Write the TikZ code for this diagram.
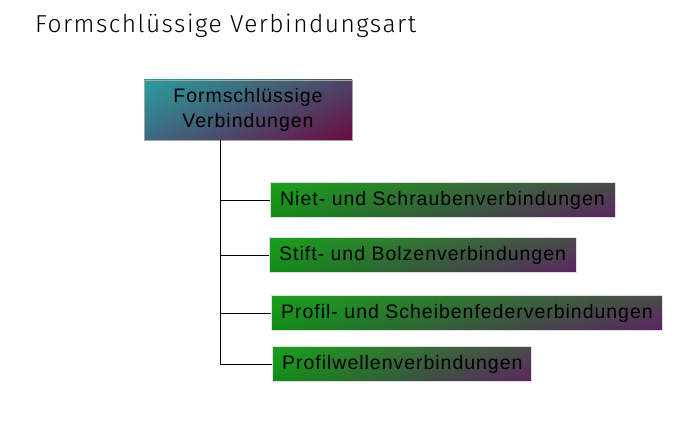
\documentclass[tikz,border=0pt]{standalone}
\usepackage{fontspec}
\setmainfont{Liberation Sans}
\newfontfamily\boxfont[LetterSpace=5]{Liberation Sans}
\newfontfamily\titlefont[LetterSpace=6]{Fira Sans Light}
\usetikzlibrary{positioning,shadings}
\definecolor{kopfUL}{HTML}{2A9E9B}
\definecolor{kopfUR}{HTML}{4B4468}
\definecolor{kopfLL}{HTML}{3D6A84}
\definecolor{kopfLR}{HTML}{6C0A3E}
\definecolor{artUL}{HTML}{1AA01C}
\definecolor{artLL}{HTML}{128A18}
\definecolor{artUR}{HTML}{4A4A4A}
\definecolor{artLR}{HTML}{5C2462}

\begin{document}
\begin{tikzpicture}[x=1pt,y=-1pt,
kopf/.style={draw=gray!70,upper left=kopfUL,upper right=kopfUR,lower left=kopfLL,lower right=kopfLR,
  minimum width=208pt,minimum height=60pt,inner sep=0pt,align=center,font=\boxfont\fontsize{19.5}{25.5}\selectfont},
art/.style={draw=gray!25,upper left=artUL,upper right=artUR,lower left=artLL,lower right=artLR,
  anchor=west,minimum height=35pt,inner xsep=10pt,inner ysep=0pt,align=left,font=\boxfont\fontsize{19.5}{22}\selectfont}]
\useasboundingbox (0,0) rectangle (692,433);
\node[anchor=base west,inner sep=0pt,font=\titlefont\fontsize{24.5}{28}\selectfont] (titel) at (35,33) {Formschlüssige Verbindungsart};
\node[kopf] (K) at (248,110) {Formschlüssige\\Verbindungen};
\node[art,text width=325pt] (N1) at (270,200) {Niet- und Schraubenverbindungen};
\node[art,text width=287pt] (N2) at (269,255) {Stift- und Bolzenverbindungen};
\node[art,text width=371pt] (N3) at (271,313) {Profil- und Scheibenfederverbindungen};
\node[art,text width=239pt] (N4) at (272,364) {Profilwellenverbindungen};
\coordinate (S) at (220,140);
\draw (S) |- (N1.west);
\draw (S) |- (N2.west);
\draw (S) |- (N3.west);
\draw (S) |- (N4.west);
\end{tikzpicture}
\end{document}
